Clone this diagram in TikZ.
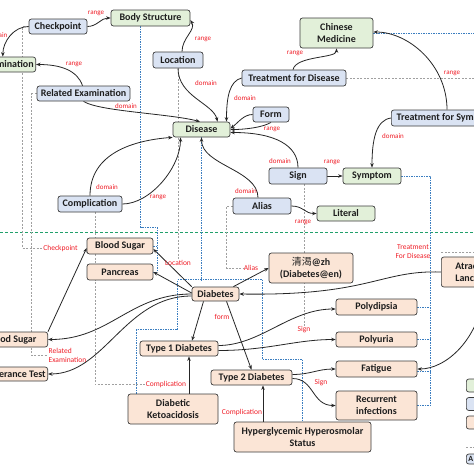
\documentclass[tikz,border=0pt]{standalone}
\usepackage{fontspec}
\setmainfont{Carlito}
\newfontfamily\cjk{Noto Sans CJK SC}
\usetikzlibrary{arrows.meta,calc}
\definecolor{clsfill}{HTML}{E2F0D9}
\definecolor{propfill}{HTML}{DAE3F3}
\definecolor{instfill}{HTML}{FBE5D6}
\definecolor{boxc}{HTML}{3C3C3C}
\definecolor{txtc}{HTML}{1E1E1E}
\definecolor{edgec}{HTML}{262626}
\definecolor{lblred}{HTML}{F01E28}
\definecolor{gdashc}{HTML}{A0A0A0}
\definecolor{bdashc}{HTML}{3A7DC0}
\definecolor{grdashc}{HTML}{21A06B}
\pgfdeclarelayer{bgw}
\pgfdeclarelayer{lines}
\pgfsetlayers{bgw,lines,main}
\tikzset{
  nb/.style={draw=boxc, line width=0.7pt, rounded corners=2.5pt,
    font=\bfseries\fontsize{10}{12}\selectfont, text=txtc,
    inner xsep=2pt, inner ysep=1pt, align=center},
  cls/.style={nb, fill=clsfill},
  prop/.style={nb, fill=propfill},
  inst/.style={nb, fill=instfill},
  wh/.style 2 args={minimum width=#1pt, minimum height=#2pt},
  lbl/.style={text=lblred, font=\fontsize{7}{8}\selectfont, inner sep=0.5pt},
  lblb/.style={text=lblred, font=\fontsize{7.5}{9}\selectfont, inner sep=0.5pt},
  ed/.style={draw=edgec, line width=0.8pt, -{Stealth[length=4.5pt,width=3.5pt]}},
  gdash/.style={draw=gdashc, line width=0.6pt, dash pattern=on 2pt off 1.5pt},
  bdash/.style={draw=bdashc, line width=1pt, dash pattern=on 1.5pt off 1pt},
  grdash/.style={draw=grdashc, line width=1pt, dash pattern=on 3pt off 2pt},
}
\begin{document}
\begin{tikzpicture}[x=1pt,y=-1pt]
\path[use as bounding box] (0,0) rectangle (474,474);
\clip (0,0) rectangle (474,474);
\begin{pgfonlayer}{bgw}
\fill[white] (0,0) rectangle (474,474);
\end{pgfonlayer}

% ---------- ontology layer ----------
\node[prop, wh={58}{15}] (cp) at (58,26.5) {Checkpoint};
\node[cls, wh={79}{16}] (bstruct) at (150.5,18) {Body Structure};
\node[cls, wh={55}{15}, anchor=east] (exam) at (36,64.5) {Examination};
\node[prop, wh={93}{15}] (relex) at (83.5,93.5) {Related Examination};
\node[prop, wh={50}{16}] (loc) at (178,60) {Location};
\node[cls, wh={73}{30}] (cm) at (336.5,33) {Chinese\\Medicine};
\node[prop, wh={104}{16}] (tfd) at (294,78) {Treatment for Disease};
\node[prop, wh={36}{15}] (form) at (271,114.5) {Form};
\node[cls, wh={57}{15}] (disease) at (201.5,129.5) {Disease};
\node[prop, wh={110}{16}, anchor=west] (tfs) at (391,118) {Treatment for Symptom};
\node[prop, wh={58}{16}] (sign) at (298,176) {Sign};
\node[cls, wh={58}{16}] (symptom) at (372,176) {Symptom};
\node[prop, wh={58}{16}] (alias) at (262,206) {Alias};
\node[cls, wh={58}{15}] (literal) at (346,213.5) {Literal};
\node[prop, wh={64}{16}] (comp) at (90,204) {Complication};

% ---------- instance layer ----------
\node[inst, wh={66}{16}] (bsugar) at (120,246) {Blood Sugar};
\node[inst, wh={66}{16}] (pancreas) at (120,272) {Pancreas};
\node[inst, wh={47}{14}] (diab) at (215.5,294) {Diabetes};
\node[inst, wh={72}{15}, anchor=east] (fbs) at (48,339.5) {Blood Sugar};
\node[inst, wh={60}{14}, anchor=east] (ogtt) at (48,374) {Tolerance Test};
\node[inst, wh={84}{30}] (zh) at (311,268) {{\mdseries\cjk 清渴}@zh\\(Diabetes@en)};
\node[inst, wh={80}{30}, anchor=west, align=left] (atra) at (441,272) {Atractylodes\\Lancea};
\node[inst, wh={81}{16}] (polyd) at (376.5,307) {Polydipsia};
\node[inst, wh={81}{15}] (polyu) at (376.5,339.5) {Polyuria};
\node[inst, wh={81}{16}] (fatigue) at (376.5,369) {Fatigue};
\node[inst, wh={81}{29}] (recur) at (376.5,405.5) {Recurrent\\infections};
\node[inst, wh={78}{15}] (t1) at (179,348.5) {Type 1 Diabetes};
\node[inst, wh={81}{15}] (t2) at (251.5,377.5) {Type 2 Diabetes};
\node[inst, wh={90}{30}] (dk) at (173,409) {Diabetic\\Ketoacidosis};
\node[inst, wh={137}{30}] (hh) at (302.5,437) {Hyperglycemic Hyperosmolar\\Status};

% ---------- legend (cut off) ----------
\node[cls, wh={30}{13}, anchor=west] (lg1) at (466,385.5) {};
\node[prop, wh={30}{13}, anchor=west] (lg2) at (466,404) {};
\node[inst, wh={30}{13}, anchor=west] (lg3) at (466,422.5) {};
\coordinate (lg4) at (466,447);
\node[prop, minimum height=10pt, anchor=west, text width=24pt, align=left, font=\bfseries\fontsize{8}{9}\selectfont] (lg5) at (466,459) {A};

% ---------- red labels, ontology ----------
\node[lbl] (r1) at (96,13) {range};
\node[lbl] (r2) at (-3.5,35) {domain};
\node[lbl] (r3) at (74,64.5) {range};
\node[lbl] (r4) at (126,106) {domain};
\node[lbl] (r5) at (203,39) {range};
\node[lbl] (r6) at (206,83.5) {domain};
\node[lbl] (r7) at (245,98) {domain};
\node[lbl] (r8) at (295,53) {range};
\node[lbl] (r9) at (452,73) {range};
\node[lbl] (r10) at (272,129) {range};
\node[lbl] (r11) at (393,136) {domain};
\node[lbl] (r12) at (280,161) {domain};
\node[lbl] (r13) at (332,162) {range};
\node[lbl] (r14) at (107,187) {domain};
\node[lbl] (r15) at (158,197) {range};
\node[lbl] (r16) at (246,191) {domain};
\node[lbl] (r17) at (303,222) {range};

% ---------- red labels, instances ----------
\node[lblb] (lcp) at (60.5,248) {Checkpoint};
\node[lblb] (lloc) at (178,263) {Location};
\node[lblb] (lalias) at (251,268) {Alias};
\node[lblb, align=center] (ltfd) at (413,251.5) {Treatment\\For Disease};
\node[lblb] (lform) at (222,317) {form};
\node[lblb, anchor=west, align=left] (lrelex) at (48,355.5) {Related\\Examination};
\node[lblb] (lcomp1) at (166,384.5) {Complication};
\node[lblb] (lcomp2) at (242,412) {Complication};
\node[lblb] (lsign1) at (304,330) {Sign};
\node[lblb] (lsign2) at (321,383) {Sign};

\begin{pgfonlayer}{lines}
% green layer separator
\draw[grdash] (0,232) -- (474,232);
% gray mapping lines
\draw[gdash] (cp.west) -- ++(-6,0) |- (lcp.west);
\draw[gdash] (relex.west) -- ++(-5,0) |- (lrelex.west);
\draw[gdash] (loc.south) -- (loc.south |- lloc.north);
\draw[gdash] ([xshift=5pt]comp.south) |- (lcomp1.west);
\draw[gdash] (alias.west) -- ++(-6,0) |- (lalias.west);
\draw[gdash] (lsign1.north |- sign.south) -- (lsign1.north);
\draw[gdash] (tfd.east) -- ++(140,0) -- ++(0,174) -- ++(-46,0);
\draw[gdash] (lg4) -- ++(20,0);
% blue mapping lines
\draw[bdash] (cm.east) -- ++(130,0);
\draw[bdash] ([xshift=-10pt]bstruct.south) -- ++(0,201) -- ++(16.5,0) |- (pancreas.east);
\draw[bdash] (bsugar.east) -- ++(4,0);
\draw[bdash] (disease.south) -- ++(0,143);
\draw[bdash] ([xshift=9pt]dk.north west) -- ++(0,-64) -- ++(41,0) -- ++(0,-50)
   -- ++(85,0) -- ++(0,80) -- ++(40,0) -- ++(0,62);
\draw[bdash] (symptom.east) -- ++(29,0) |- (recur.east);
\draw[bdash] (polyd.east) -- ++(13,0);
\draw[bdash] (polyu.east) -- ++(13,0);
\draw[bdash] ([yshift=-2pt]fatigue.east) -- ++(13,0);

% ontology edges
\draw[ed] (cp.east) .. controls +(10,0) and +(-10,0) .. (bstruct.west);
\draw[ed] (cp.west) .. controls +(-15,0) and +(0,-15) .. ([xshift=-5pt]exam.north);
\draw[ed] ([xshift=-1pt]relex.north) .. controls +(-5,-15) and +(25,0) .. (exam.east);
\draw[ed] (relex.south) .. controls +(15,10) and +(-30,-8) .. ([xshift=-1.5pt]disease.north);
\draw[ed] ([xshift=4pt]loc.north) .. controls +(0,-14) and +(6,10) .. ([yshift=-2pt]bstruct.east);
\draw[ed] (loc.south) .. controls +(0,28) and +(-4,-18) .. ([xshift=16pt]disease.north);
\draw[ed] (tfd.west) .. controls +(-12,3) and +(0,-25) .. ([xshift=25pt]disease.north);
\draw[ed] ([xshift=-1pt]tfd.north) .. controls +(3,-14) and +(0,10) .. (cm.south);
\draw[ed] ([xshift=56pt]tfs.north west) .. controls +(0,-45) and +(35,0) .. ([yshift=1pt]cm.east);
\draw[ed] (tfs.west) .. controls +(-15,2) and +(0,-28) .. (symptom.north);
\draw[ed] (form.west) .. controls +(-9,0) and +(8,-6) .. ([yshift=1pt]disease.east);
\draw[ed] (form.south) .. controls +(-8,5) and +(15,0) .. (disease.east);
\draw[ed] (sign.north) .. controls +(0,-22) and +(45,0) .. ([yshift=-3pt]disease.east);
\draw[ed] (sign.east) -- (symptom.west);
\draw[ed] ([xshift=-4pt]alias.north) .. controls +(0,-28) and +(0,28) .. (disease.south);
\draw[ed] (alias.east) .. controls +(12,0) and +(-12,0) .. (literal.west);
\draw[ed] (comp.north) .. controls +(0,-42) and +(-40,3) .. (disease.south west);
\draw[ed] (comp.east) .. controls +(28,0) and +(0,30) .. ([xshift=-21pt]disease.south);

% instance edges
\draw[ed] (diab.north west) -- ([yshift=-3pt]bsugar.east);
\draw[ed] ([yshift=1pt]diab.west) -- (pancreas.east);
\draw[ed] (diab.west) .. controls +(-62,0) and +(62,0) .. (fbs.east);
\draw[ed] ([yshift=-2pt]diab.west) .. controls +(-67,0) and +(57,0) .. (ogtt.east);
\draw[ed] (fbs.north east) -- ([yshift=-2pt]bsugar.west);
\draw[ed] ([xshift=-6pt]diab.north east) -- (zh.west);
\draw[ed] (atra.west) .. controls +(-61,-2) and +(131,2) .. (diab.east);
\draw[ed] ([xshift=-12pt]diab.south) -- ([xshift=13pt]t1.north);
\draw[ed] ([xshift=11pt]diab.south) -- (t2.north);
\draw[ed] ([xshift=16pt]dk.north) -- ([xshift=10pt]t1.south);
\draw[ed] ([xshift=-39.5pt]hh.north) -- ([xshift=11.5pt]t2.south);
\draw[ed] ([yshift=3pt]t1.east) .. controls +(42,0) and +(-46,0) .. ([yshift=-2pt]polyd.west);
\draw[ed] ([yshift=-2pt]t1.east) .. controls +(50,0) and +(-40,0) .. (polyu.west);
\draw[ed] ([yshift=3pt]t2.east) .. controls +(18,0) and +(-18,0) .. (fatigue.west);
\draw[ed] ([yshift=-1pt]t2.east) .. controls +(22,0) and +(-24,0) .. (recur.west);
\draw[ed] ([xshift=44pt]atra.south west) .. controls +(-5,53) and +(28,0) .. (fatigue.east);
\end{pgfonlayer}
\end{tikzpicture}
\end{document}
